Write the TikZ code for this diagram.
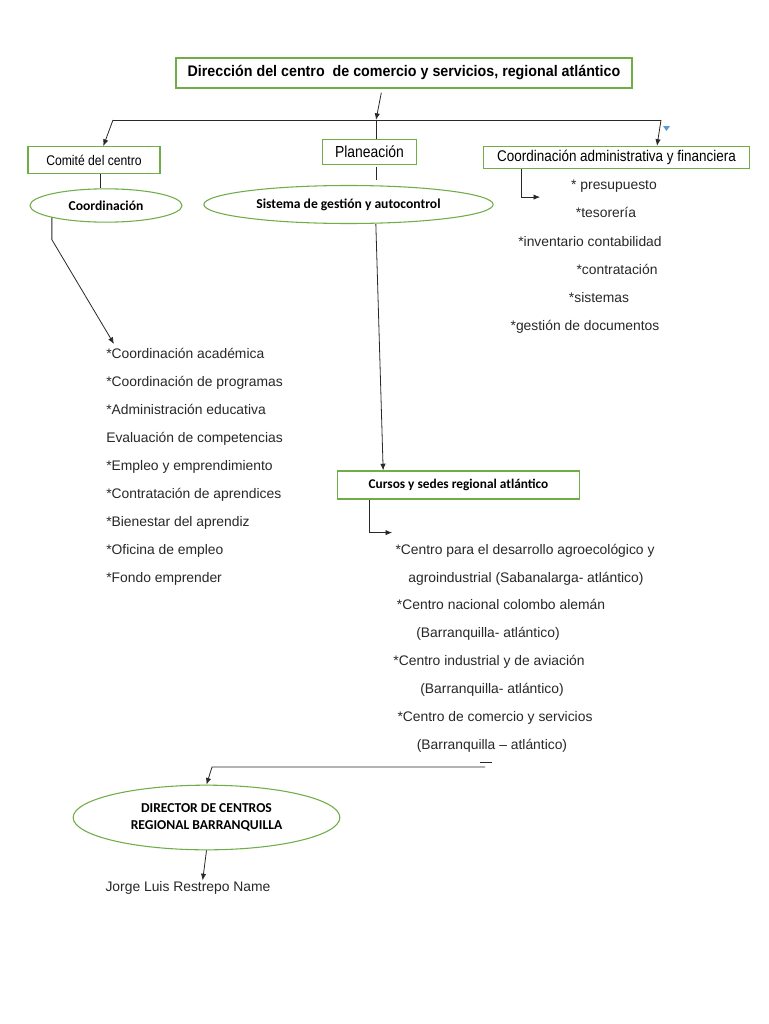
\documentclass[tikz,border=0pt]{standalone}
\usepackage{fontspec}
\setmainfont{Liberation Sans}
\newfontfamily\narrowfont[FakeStretch=0.87]{Liberation Sans}
\newfontfamily\titlefont[FakeStretch=0.93]{Liberation Sans}
\newfontfamily\calibrifont{Carlito}
\usetikzlibrary{arrows.meta,positioning,shapes.geometric}
\definecolor{orggreen}{RGB}{112,173,71}
\definecolor{orgblue}{RGB}{91,155,213}
\definecolor{orgtext}{RGB}{40,40,40}

\begin{document}
\begin{tikzpicture}[x=0.75pt,y=-0.75pt,
  box/.style={draw=orggreen, line width=0.9pt, fill=white, inner sep=0pt,
    font=\narrowfont\fontsize{10.5}{12}\selectfont},
  oval/.style={ellipse, draw=orggreen, line width=0.8pt, inner sep=0pt, align=center,
    font=\calibrifont\bfseries\fontsize{10.2}{13}\selectfont},
  item/.style={inner sep=0pt, text=orgtext, text height=9pt, text depth=2.5pt,
    font=\fontsize{10.4}{12}\selectfont},
  link/.style={draw=orgtext, line width=0.6pt},
  tip/.style={link, -{Latex[length=5pt,width=4pt]}}]
  \useasboundingbox[fill=white] (0,0) rectangle (768,1024);
  % top of the chart
  \node[box, minimum width=342pt, minimum height=22.5pt,
    font=\titlefont\bfseries\fontsize{11.5}{13}\selectfont] (title) at (404,73)
    {Dirección del centro~ de comercio y servicios, regional atlántico};
  \node[box, minimum width=99pt, minimum height=20pt] (comite) at (94,160) {Comité del centro};
  \node[box, minimum width=70pt, minimum height=19pt,
    font=\narrowfont\fontsize{12}{13}\selectfont] (plan) at (369.5,152) {Planeación};
  \node[box, minimum width=200pt, minimum height=16.5pt,
    font=\narrowfont\fontsize{11.6}{13}\selectfont] (admin) at (616.5,157.5)
    {Coordinación administrativa y financiera};
  \node[oval, minimum width=114pt, minimum height=25pt] (coord) at (106,205.5) {Coordinación};
  \node[oval, minimum width=217pt, minimum height=28.5pt] (sis) at (348.5,204.5)
    {Sistema de gestión y autocontrol};
  % branch line
  \coordinate (hl) at (113,120);
  \coordinate (hm) at (376,120);
  \coordinate (hr) at (661,120);
  \draw[link] (hl) -- (hr);
  \draw[tip] ([xshift=-17pt,yshift=-3pt]title.south) -- (hm);
  \draw[tip] (hl) -- ([xshift=7pt]comite.north);
  \draw[link] (hm) -- (hm |- plan.north);
  \draw[tip] (hr) -- ([xshift=-3pt]hr |- admin.north);
  \fill[orgblue] (663,126) -- (670,126) -- (666.5,131) -- cycle;
  \draw[link] ([xshift=5pt]comite.south) -- ([xshift=5pt]comite.south |- coord.north);
  \draw[link] ([xshift=5pt,yshift=-1pt]plan.south) -- ++(0,13);
  % administrative list
  \node[item] (a1) at (614,185) {* presupuesto};
  \node[item] (a2) at (606,213) {*tesorería};
  \node[item] (a3) at (590,242) {*inventario contabilidad};
  \node[item] (a4) at (617,270) {*contratación};
  \node[item] (a5) at (599,298) {*sistemas};
  \node[item] (a6) at (585,326) {*gestión de documentos};
  \draw[tip] ([xshift=-71.5pt]admin.south) -- ++(0,28) -- ++(19,0);
  % coordination list
  \coordinate (ca) at (114,344);
  \draw[tip] (coord.south west) -- ++(0,22) -- (ca);
  \foreach \t [count=\i from 0] in {*Coordinación académica,*Coordinación de programas,
      *Administración educativa,Evaluación de competencias,*Empleo y emprendimiento,
      *Contratación de aprendices,*Bienestar del aprendiz,*Oficina de empleo,*Fondo emprender}
    \node[item, anchor=west] (c\i) at (106,354+28*\i) {\t};
  % courses and regional centres
  \node[box, minimum width=182pt, minimum height=21pt,
    font=\calibrifont\bfseries\fontsize{10}{12}\selectfont] (cursos) at (458.5,485)
    {Cursos y sedes regional atlántico};
  \draw[tip] ([xshift=20.5pt]sis.south) -- ([xshift=-56.5pt]cursos.north);
  \draw[tip] ([xshift=-67pt]cursos.south) -- ++(0,33) -- ++(23,0);
  \node[item] (s1) at (525,550) {*Centro para el desarrollo agroecológico y};
  \node[item] (s2) at (526,578) {agroindustrial (Sabanalarga- atlántico)};
  \node[item] (s3) at (501,605) {*Centro nacional colombo alemán};
  \node[item] (s4) at (488,633) {(Barranquilla- atlántico)};
  \node[item] (s5) at (489,661) {*Centro industrial y de aviación};
  \node[item] (s6) at (492,689) {(Barranquilla- atlántico)};
  \node[item] (s7) at (495,717) {*Centro de comercio y servicios};
  \node[item] (s8) at (492,745) {(Barranquilla – atlántico)};
  % director
  \node[oval, minimum width=200pt, minimum height=48.5pt] (dir) at (206.5,817.5)
    {DIRECTOR DE CENTROS\\REGIONAL BARRANQUILLA};
  \coordinate (dr) at (485,767);
  \draw[link] (480,762) -- (492,762);
  \draw[tip] (dr) -- (212,767) -- (dir.north);
  \node[item] (jorge) at (188,887) {Jorge Luis Restrepo Name};
  \draw[tip] (dir.south) -- ([xshift=11pt,yshift=-1pt]jorge.north);
\end{tikzpicture}
\end{document}
